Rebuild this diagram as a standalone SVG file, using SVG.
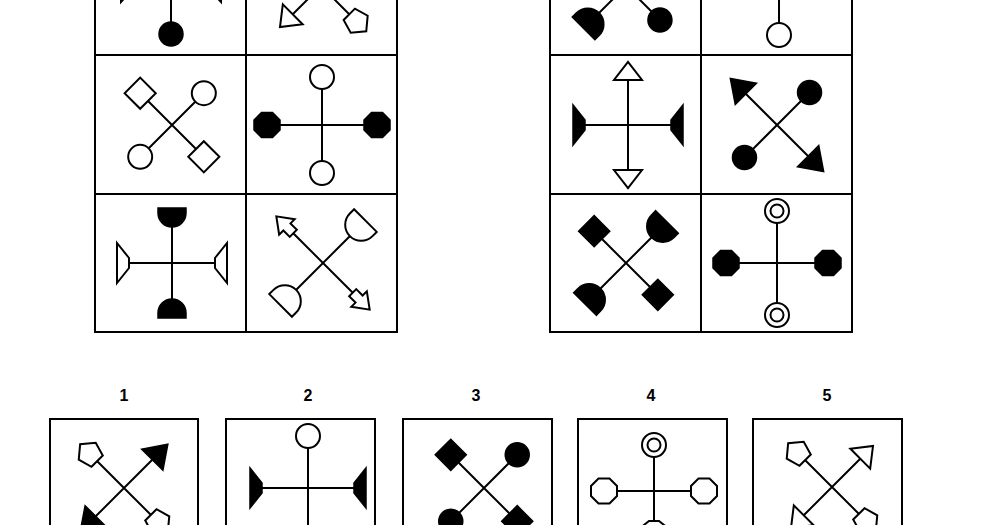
<svg xmlns="http://www.w3.org/2000/svg" xmlns:xlink="http://www.w3.org/1999/xlink" width="1000" height="525" viewBox="0 0 1000 525">
<style>
.fr{fill:none;stroke:#000;stroke-width:2}
.ln{stroke:#000;stroke-width:2;fill:none}
.o{fill:#fff;stroke:#000;stroke-width:2}
.f{fill:#000;stroke:#000;stroke-width:1.5}
.lb{font-family:"Liberation Sans",Arial,sans-serif;font-weight:bold;font-size:16px;text-anchor:middle}
</style>
<defs>
<circle id="circ" cx="0" cy="-12" r="12"/>
<g id="dcirc"><circle cx="0" cy="-12" r="12" class="o"/><circle cx="0" cy="-12" r="6.5" class="o"/></g>
<rect id="diam" x="-11" y="-22" width="22" height="22"/>
<polygon id="oct" points="5,0 -5,0 -12.5,-7.5 -12.5,-18.5 -5,-26 5,-26 12.5,-18.5 12.5,-7.5"/>
<polygon id="tri" points="-14,0 14,0 0,-18"/>
<polygon id="trif" points="-15,0 15,0 0,-22"/>
<polygon id="trap" points="-5,0 5,0 20,-12 -20,-12"/>
<polygon id="traps" points="-5,0 5,0 16,-10 -16,-10"/>
<path id="semi" d="M-14,-19 H14 V-14 A14 14 0 0 1 -14,-14 Z"/>
<path id="semib" d="M-16,-22 H16 V-16 A16 16 0 0 1 -16,-16 Z"/>
<polygon id="barr" points="-5,0 5,0 5,-9 11,-9 0,-24 -11,-9 -5,-9"/>
<polygon id="pent" points="-8,0 8,0 12,-14 0,-24 -12,-14"/>
</defs>
<g id="frames">
<rect class="fr" x="95" y="-84" width="151" height="139"/><rect class="fr" x="246" y="-84" width="151" height="139"/>
<rect class="fr" x="95" y="55" width="151" height="139"/><rect class="fr" x="246" y="55" width="151" height="139"/>
<rect class="fr" x="95" y="194" width="151" height="138"/><rect class="fr" x="246" y="194" width="151" height="138"/>
<rect class="fr" x="550" y="-84" width="151" height="139"/><rect class="fr" x="701" y="-84" width="151" height="139"/>
<rect class="fr" x="550" y="55" width="151" height="139"/><rect class="fr" x="701" y="55" width="151" height="139"/>
<rect class="fr" x="550" y="194" width="151" height="138"/><rect class="fr" x="701" y="194" width="151" height="138"/>
<rect class="fr" x="50" y="419" width="148" height="150"/>
<rect class="fr" x="226" y="419" width="149" height="150"/>
<rect class="fr" x="403" y="419" width="149" height="150"/>
<rect class="fr" x="578" y="419" width="149" height="150"/>
<rect class="fr" x="753" y="419" width="149" height="150"/>
</g>
<g id="labels">
<text class="lb" x="124" y="401">1</text><text class="lb" x="308" y="401">2</text><text class="lb" x="476" y="401">3</text><text class="lb" x="651" y="401">4</text><text class="lb" x="827" y="401">5</text>
</g>
<g id="L1" transform="translate(171,-14)">
<path class="ln" d="M0,-37V37M-40,0H40"/>
<use href="#circ" class="f" transform="rotate(180) translate(0,-36)"/>
<use href="#traps" class="o" transform="rotate(270) translate(0,-40)"/>
<use href="#traps" class="o" transform="rotate(90) translate(0,-40)"/>
</g>
<g id="L2" transform="translate(321,-14)">
<path class="ln" d="M-30,-30L30,30M30,-30L-30,30"/>
<use href="#tri" class="o" transform="rotate(225) translate(0,-40)"/>
<use href="#pent" class="o" transform="rotate(135) translate(0,-40)"/>
</g>
<g id="L3" transform="translate(172,125)">
<path class="ln" d="M-26,-26L26,26M26,-26L-26,26"/>
<use href="#diam" class="o" transform="rotate(-45) translate(0,-34)"/>
<use href="#diam" class="o" transform="rotate(135) translate(0,-34)"/>
<use href="#circ" class="o" transform="rotate(45) translate(0,-33)"/>
<use href="#circ" class="o" transform="rotate(225) translate(0,-33)"/>
</g>
<g id="L4" transform="translate(322,125)">
<path class="ln" d="M0,-36V36M-42,0H42"/>
<use href="#circ" class="o" transform="translate(0,-36)"/>
<use href="#circ" class="o" transform="rotate(180) translate(0,-36)"/>
<use href="#oct" class="f" transform="rotate(90) translate(0,-42)"/>
<use href="#oct" class="f" transform="rotate(270) translate(0,-42)"/>
</g>
<g id="L5" transform="translate(172,263)">
<path class="ln" d="M0,-36V36M-43,0H43"/>
<use href="#semi" class="f" transform="translate(0,-36)"/>
<use href="#semi" class="f" transform="rotate(180) translate(0,-36)"/>
<use href="#trap" class="o" transform="rotate(90) translate(0,-43)"/>
<use href="#trap" class="o" transform="rotate(270) translate(0,-43)"/>
</g>
<g id="L6" transform="translate(323,263)">
<path class="ln" d="M-30,-30L30,30M30,-30L-30,30"/>
<use href="#barr" class="o" transform="rotate(-45) translate(0,-42)"/>
<use href="#barr" class="o" transform="rotate(135) translate(0,-42)"/>
<use href="#semib" class="o" transform="rotate(45) translate(0,-38)"/>
<use href="#semib" class="o" transform="rotate(225) translate(0,-38)"/>
</g>
<g id="R1" transform="translate(626,-14)">
<path class="ln" d="M-30,-30L30,30M30,-30L-30,30"/>
<use href="#semib" class="f" transform="rotate(225) translate(0,-38)"/>
<use href="#circ" class="f" transform="rotate(135) translate(0,-36)"/>
</g>
<g id="R2" transform="translate(779,-14)">
<path class="ln" d="M0,-37V37"/>
<use href="#circ" class="o" transform="rotate(180) translate(0,-37)"/>
</g>
<g id="R3" transform="translate(628,125)">
<path class="ln" d="M0,-45V45M-43,0H43"/>
<use href="#tri" class="o" transform="translate(0,-45)"/>
<use href="#tri" class="o" transform="rotate(180) translate(0,-45)"/>
<use href="#trap" class="f" transform="rotate(90) translate(0,-43)"/>
<use href="#trap" class="f" transform="rotate(270) translate(0,-43)"/>
</g>
<g id="R4" transform="translate(777,125)">
<path class="ln" d="M-32,-32L32,32M30,-30L-30,30"/>
<use href="#trif" class="f" transform="rotate(-45) translate(0,-44)"/>
<use href="#trif" class="f" transform="rotate(135) translate(0,-44)"/>
<use href="#circ" class="f" transform="rotate(45) translate(0,-34)"/>
<use href="#circ" class="f" transform="rotate(225) translate(0,-34)"/>
</g>
<g id="R5" transform="translate(626,263)">
<path class="ln" d="M-28,-28L28,28M28,-28L-28,28"/>
<use href="#diam" class="f" transform="rotate(-45) translate(0,-34)"/>
<use href="#diam" class="f" transform="rotate(135) translate(0,-34)"/>
<use href="#semib" class="f" transform="rotate(45) translate(0,-36)"/>
<use href="#semib" class="f" transform="rotate(225) translate(0,-36)"/>
</g>
<g id="R6" transform="translate(777,263)">
<path class="ln" d="M0,-40V40M-38,0H38"/>
<use href="#dcirc" transform="translate(0,-40)"/>
<use href="#dcirc" transform="rotate(180) translate(0,-40)"/>
<use href="#oct" class="f" transform="rotate(90) translate(0,-38)"/>
<use href="#oct" class="f" transform="rotate(270) translate(0,-38)"/>
</g>
<g id="O1" transform="translate(124,488)">
<path class="ln" d="M-30,-30L30,30M30,-30L-30,30"/>
<use href="#pent" class="o" transform="rotate(-45) translate(0,-38)"/>
<use href="#pent" class="o" transform="rotate(135) translate(0,-38)"/>
<use href="#trif" class="f" transform="rotate(45) translate(0,-40)"/>
<use href="#trif" class="f" transform="rotate(225) translate(0,-40)"/>
</g>
<g id="O2" transform="translate(308,488)">
<path class="ln" d="M0,-40V40M-46,0H46"/>
<use href="#circ" class="o" transform="translate(0,-40)"/>
<use href="#circ" class="o" transform="rotate(180) translate(0,-40)"/>
<use href="#trap" class="f" transform="rotate(90) translate(0,-46)"/>
<use href="#trap" class="f" transform="rotate(270) translate(0,-46)"/>
</g>
<g id="O3" transform="translate(484,488)">
<path class="ln" d="M-30,-30L30,30M30,-30L-30,30"/>
<use href="#diam" class="f" transform="rotate(-45) translate(0,-36)"/>
<use href="#diam" class="f" transform="rotate(135) translate(0,-36)"/>
<use href="#circ" class="f" transform="rotate(45) translate(0,-35)"/>
<use href="#circ" class="f" transform="rotate(225) translate(0,-35)"/>
</g>
<g id="O4" transform="translate(654,491)">
<path class="ln" d="M0,-34V34M-37,0H37"/>
<use href="#dcirc" transform="translate(0,-34)"/>
<use href="#trap" class="o" transform="rotate(180) translate(0,-30)"/>
<use href="#oct" class="o" transform="rotate(90) translate(0,-37)"/>
<use href="#oct" class="o" transform="rotate(270) translate(0,-37)"/>
</g>
<g id="O5" transform="translate(832,487)">
<path class="ln" d="M-30,-30L30,30M30,-30L-30,30"/>
<use href="#pent" class="o" transform="rotate(-45) translate(0,-38)"/>
<use href="#pent" class="o" transform="rotate(135) translate(0,-38)"/>
<use href="#tri" class="o" transform="rotate(45) translate(0,-40)"/>
<use href="#tri" class="o" transform="rotate(225) translate(0,-40)"/>
</g>
</svg>
